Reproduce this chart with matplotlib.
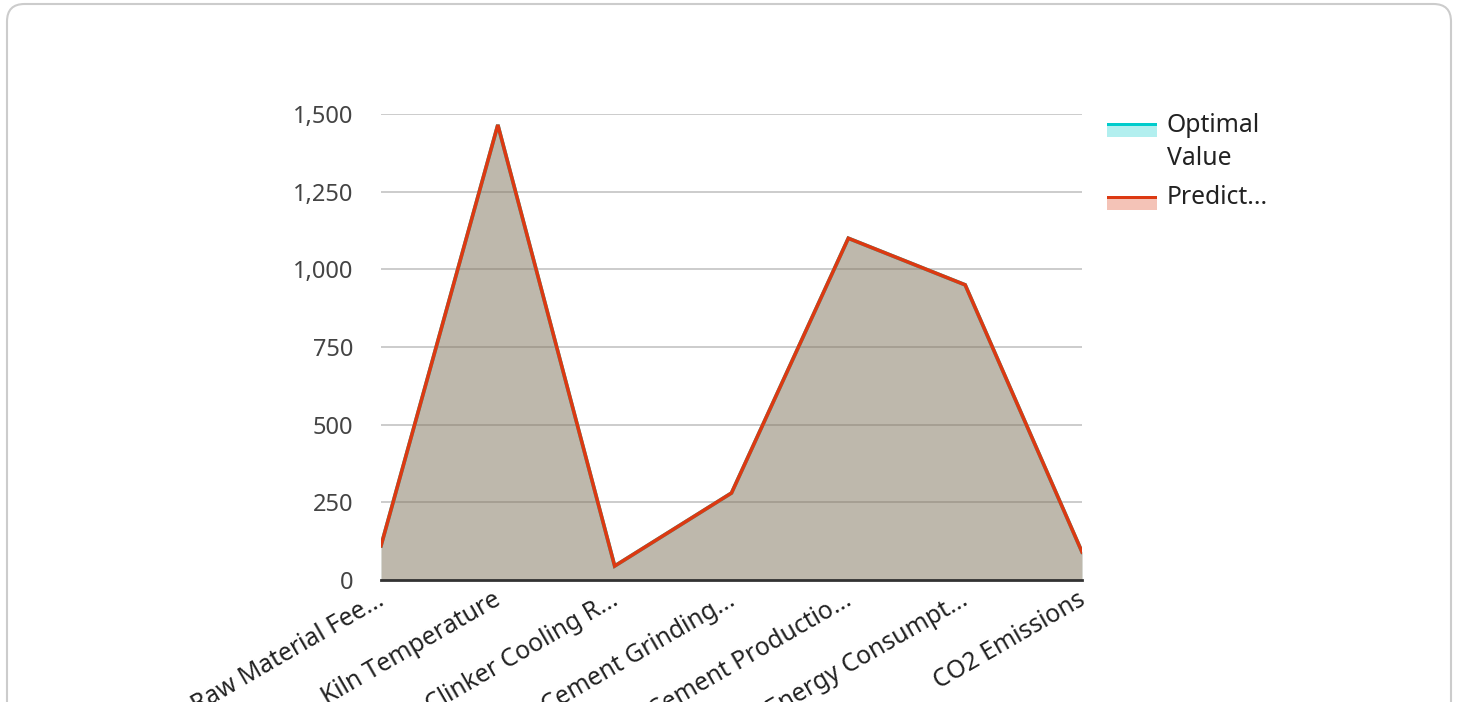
import matplotlib
matplotlib.use("Agg")
import matplotlib.pyplot as plt
from matplotlib.patches import FancyBboxPatch, Rectangle
from matplotlib.ticker import FuncFormatter
from matplotlib.transforms import ScaledTranslation

# Process parameters shown along the x axis (labels are truncated as displayed)
categories = [
    "Raw Material Fee...",
    "Kiln Temperature",
    "Clinker Cooling R...",
    "Cement Grinding...",
    "Cement Productio...",
    "Energy Consumpt...",
    "CO2 Emissions",
]
optimal_values = [110, 1465, 45, 280, 1100, 950, 90]
predicted_values = [110, 1465, 45, 280, 1100, 950, 90]
series_names = ["Optimal\nValue", "Predict..."]
y_ticks = [0, 250, 500, 750, 1000, 1250, 1500]

W, H = 1458, 702
DPI = 100
CYAN = "#00cccc"
RED = "#dc3912"
FONT = ["Noto Sans", "DejaVu Sans"]
FS = 17
FS_TEXT = 17.8

plt.rcParams["font.family"] = FONT

fig = plt.figure(figsize=(W / DPI, H / DPI), dpi=DPI)
fig.patch.set_facecolor("white")


def fx(px):
    return px / W


def fy(py):
    return 1 - py / H


# Card outline
card = FancyBboxPatch((fx(7), fy(720)), fx(1451) - fx(7), fy(4) - fy(720),
                      boxstyle="round,pad=0,rounding_size=0.012",
                      transform=fig.transFigure, facecolor="none",
                      edgecolor="#cccccc", linewidth=1.5, zorder=-1,
                      mutation_aspect=W / H)
fig.patches.append(card)

left, right, top, bottom = 381, 1082, 114, 580
ax = fig.add_axes([fx(left), fy(bottom), fx(right) - fx(left), fy(top) - fy(bottom)])
ax.set_facecolor("none")

x = list(range(len(categories)))
ax.fill_between(x, 0, optimal_values, color=CYAN, alpha=0.3, linewidth=0, zorder=2)
ax.fill_between(x, 0, predicted_values, color=RED, alpha=0.3, linewidth=0, zorder=2)
ax.plot(x, optimal_values, color=CYAN, linewidth=2.6, zorder=3, solid_joinstyle="miter")
ax.plot(x, predicted_values, color=RED, linewidth=2.6, zorder=4, solid_joinstyle="miter")

ax.set_xlim(0, len(categories) - 1)
ax.set_ylim(0, 1500)
ax.set_yticks(y_ticks)
ax.yaxis.set_major_formatter(FuncFormatter(lambda v, p: f"{int(v):,}"))
ax.grid(axis="y", color="#c8c8c8", linewidth=1.3, zorder=1)
ax.set_axisbelow(True)
for s in ["top", "right", "left"]:
    ax.spines[s].set_visible(False)
ax.spines["bottom"].set_color("#333333")
ax.spines["bottom"].set_linewidth(2)
ax.spines["bottom"].set_zorder(5)
ax.tick_params(axis="y", length=0, pad=20, labelsize=FS, labelcolor="#444444")
ax.tick_params(axis="x", length=0, pad=4, labelsize=FS_TEXT, labelcolor="#222222")
ax.set_xticks(x)
ax.set_xticklabels(categories, rotation=30, ha="right", va="top", rotation_mode="anchor")
shift = ScaledTranslation(-5 / DPI, -2 / DPI, fig.dpi_scale_trans)
for lbl in ax.get_xticklabels():
    lbl.set_transform(lbl.get_transform() + shift)

# Legend drawn as line-over-swatch markers with text
legend_items = [(CYAN, 123, series_names[0], 142), (RED, 196, series_names[1], 198)]
for color, ly, label, ty in legend_items:
    fig.patches.append(Rectangle((fx(1107), fy(ly + 14)), fx(1157) - fx(1107), fy(ly) - fy(ly + 14),
                                 transform=fig.transFigure, facecolor=color, alpha=0.3,
                                 edgecolor="none"))
    fig.patches.append(Rectangle((fx(1107), fy(ly + 3)), fx(1157) - fx(1107), fy(ly) - fy(ly + 3),
                                 transform=fig.transFigure, facecolor=color, edgecolor="none"))
    fig.text(fx(1167), fy(ty), label, fontsize=FS_TEXT, color="#222222", va="center", ha="left",
             linespacing=1.4)

fig.savefig("out.png", dpi=DPI)
